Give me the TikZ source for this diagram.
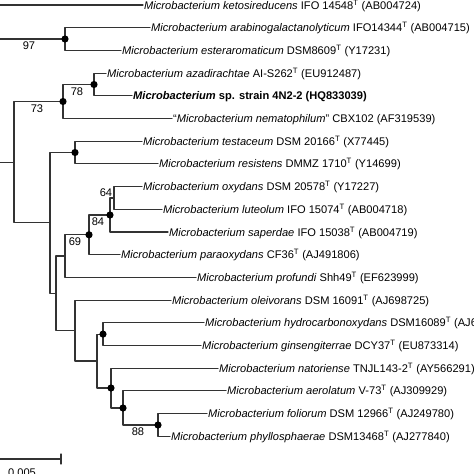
\documentclass[tikz,border=0pt]{standalone}
\usepackage{fontspec}
\setmainfont{Liberation Sans}
\begin{document}
\begin{tikzpicture}[x=1pt,y=-1pt,line join=round,line cap=round,
	branch/.style={line width=1.1pt,black!80},
	taxon/.style={anchor=west,inner xsep=1pt,inner ysep=0pt,text height=8.5pt,text depth=0.5pt,font=\fontsize{11.1}{13}\selectfont},
	boot/.style={inner sep=0pt,font=\fontsize{11.1}{13}\selectfont}]
	\useasboundingbox (0,0) rectangle (474,474);
	\clip (0,0) rectangle (474,474);
	% --- Taxa ---
	\node[taxon] (keto) at (143,5) {\textit{Microbacterium ketosireducens} IFO 14548\textsuperscript{T} (AB004724)};
	\node[taxon] (arab) at (150,27.7) {\textit{Microbacterium arabinogalactanolyticum} IFO14344\textsuperscript{T} (AB004715)};
	\node[taxon] (ester) at (121,50.4) {\textit{Microbacterium esteraromaticum} DSM8609\textsuperscript{T} (Y17231)};
	\node[taxon] (azad) at (106,73.1) {\textit{Microbacterium azadirachtae} AI-S262\textsuperscript{T} (EU912487)};
	\node[taxon] (strain) at (132,95.8) {\textbf{\textit{Microbacterium} sp. strain 4N2-2 (HQ833039)}};
	\node[taxon] (nemat) at (172,118.5) {“\textit{Microbacterium nematophilum}” CBX102 (AF319539)};
	\node[taxon] (testa) at (142,141.2) {\textit{Microbacterium testaceum} DSM 20166\textsuperscript{T} (X77445)};
	\node[taxon] (resis) at (158,163.9) {\textit{Microbacterium resistens} DMMZ 1710\textsuperscript{T} (Y14699)};
	\node[taxon] (oxyd) at (142,186.6) {\textit{Microbacterium oxydans} DSM 20578\textsuperscript{T} (Y17227)};
	\node[taxon] (luteo) at (162,209.3) {\textit{Microbacterium luteolum} IFO 15074\textsuperscript{T} (AB004718)};
	\node[taxon] (saper) at (168,232) {\textit{Microbacterium saperdae} IFO 15038\textsuperscript{T} (AB004719)};
	\node[taxon] (paraox) at (120,254.7) {\textit{Microbacterium paraoxydans} CF36\textsuperscript{T} (AJ491806)};
	\node[taxon] (profu) at (196,277.4) {\textit{Microbacterium profundi} Shh49\textsuperscript{T} (EF623999)};
	\node[taxon] (oleiv) at (171,300.1) {\textit{Microbacterium oleivorans} DSM 16091\textsuperscript{T} (AJ698725)};
	\node[taxon] (hydro) at (204,322.8) {\textit{Microbacterium hydrocarbonoxydans} DSM16089\textsuperscript{T} (AJ698726)};
	\node[taxon] (ginse) at (201,345.5) {\textit{Microbacterium ginsengiterrae} DCY37\textsuperscript{T} (EU873314)};
	\node[taxon] (nator) at (218,368.2) {\textit{Microbacterium natoriense} TNJL143-2\textsuperscript{T} (AY566291)};
	\node[taxon] (aerol) at (226,390.9) {\textit{Microbacterium aerolatum} V-73\textsuperscript{T} (AJ309929)};
	\node[taxon] (folio) at (207,413.6) {\textit{Microbacterium foliorum} DSM 12966\textsuperscript{T} (AJ249780)};
	\node[taxon] (phyll) at (170,436.3) {\textit{Microbacterium phyllosphaerae} DSM13468\textsuperscript{T} (AJ277840)};
	% --- Inner nodes ---
	\coordinate (root) at (-8,84);
	\coordinate (n97) at (65,39);
	\coordinate (nA) at (14,162.2);
	\coordinate (n73) at (63,101.5);
	\coordinate (n78) at (94,84.5);
	\coordinate (nB) at (50,222.9);
	\coordinate (nC) at (75,152.5);
	\coordinate (nD) at (56,293.3);
	\coordinate (nE) at (65,256);
	\coordinate (nF) at (89,234.8);
	\coordinate (nH) at (110,215);
	\coordinate (nG) at (114,198);
	\coordinate (nI) at (75,330.6);
	\coordinate (nK) at (97,361);
	\coordinate (nL) at (103,334.1);
	\coordinate (nM) at (111,388);
	\coordinate (nN) at (123,408);
	\coordinate (nO) at (158,425);
	% --- Branches ---
	\draw[branch] (root) |- (keto) (root) |- (n97) (root) |- (nA);
	\draw[branch] (n97) |- (arab) (n97) |- (ester);
	\draw[branch] (nA) |- (n73) (nA) |- (nB);
	\draw[branch] (n73) |- (n78) (n73) |- (nemat);
	\draw[branch] (n78) |- (azad) (n78) |- (strain);
	\draw[branch] (nB) |- (nC) (nB) |- (nD);
	\draw[branch] (nC) |- (testa) (nC) |- (resis);
	\draw[branch] (nD) |- (nE) (nD) |- (nI);
	\draw[branch] (nE) |- (nF) (nE) |- (profu);
	\draw[branch] (nF) |- (nH) (nF) |- (paraox);
	\draw[branch] (nH) |- (nG) (nH) |- (saper);
	\draw[branch] (nG) |- (oxyd) (nG) |- (luteo);
	\draw[branch] (nI) |- (oleiv) (nI) |- (nK);
	\draw[branch] (nK) |- (nL) (nK) |- (nM);
	\draw[branch] (nL) |- (hydro) (nL) |- (ginse);
	\draw[branch] (nM) |- (nator) (nM) |- (nN);
	\draw[branch] (nN) |- (aerol) (nN) |- (nO);
	\draw[branch] (nO) |- (folio) (nO) |- (phyll);
	% --- Bootstrap dots ---
	\foreach \n in {n97,n78,n73,nC,nH,nF,nL,nM,nN,nO}
		\fill[black] (\n) circle (3.6);
	% --- Bootstrap values ---
	\node[boot] (b97) at (29,46) {97};
	\node[boot] (b73) at (37,109) {73};
	\node[boot] (b78) at (77,92) {78};
	\node[boot] (b64) at (106,193) {64};
	\node[boot] (b84) at (98,222) {84};
	\node[boot] (b69) at (75,242) {69};
	\node[boot] (b88) at (138,432) {88};
	% --- Scale bar ---
	\coordinate (sbL) at (-17,459);
	\coordinate (sbR) at (61,459);
	\draw[branch] (sbL) -- (sbR) ++(0,-5) -- ++(0,10);
	\node[boot] (sbT) at (22,473) {0.005};
\end{tikzpicture}
\end{document}
